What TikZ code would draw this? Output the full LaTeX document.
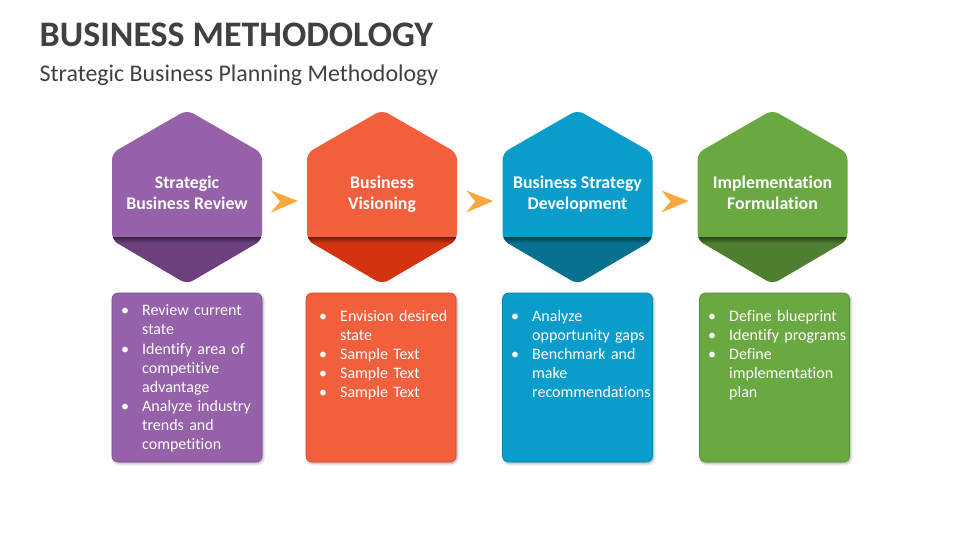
\documentclass[tikz,border=0pt]{standalone}
\usepackage{fontspec}
\setmainfont{Carlito}[Ligatures=NoCommon]
\usetikzlibrary{calc,shadows.blur}
\definecolor{txtgray}{HTML}{404040}
\definecolor{arrowc}{HTML}{F9A83E}
\definecolor{purM}{HTML}{9561A8}
\definecolor{purD}{HTML}{6D3F7E}
\definecolor{purB}{HTML}{7E4E91}
\definecolor{oraM}{HTML}{F15F3D}
\definecolor{oraD}{HTML}{D3340F}
\definecolor{oraB}{HTML}{DC4722}
\definecolor{bluM}{HTML}{0A9DCB}
\definecolor{bluD}{HTML}{07718F}
\definecolor{bluB}{HTML}{0784AC}
\definecolor{grnM}{HTML}{6AA841}
\definecolor{grnD}{HTML}{4E7E30}
\definecolor{grnB}{HTML}{568A3A}
\newcommand\bitem{\par\hangindent=21pt\hangafter=1\noindent\makebox[21pt][l]{\textbullet}\vrule height 12pt depth 0pt width 0pt\relax}
\newcommand\hexdraw[4]{%
  \begin{scope}[shift={(#1,0)}]
    \path[fill=#2, rounded corners=7pt] (0,110) -- (75,153) -- (75,240) -- (0,284) -- (-75,240) -- (-75,153) -- cycle;
    \begin{scope}
      \clip[rounded corners=7pt] (0,110) -- (75,153) -- (75,240) -- (0,284) -- (-75,240) -- (-75,153) -- cycle;
      \fill[#3] (-80,237) rectangle (80,290);
      \shade[top color=#3!55!black, bottom color=#3] (-80,237) rectangle (80,243);
    \end{scope}
    \coordinate (#4) at (0,175.3);
    \coordinate (#4-l) at (-75,201.5);
    \coordinate (#4-r) at (75,201.5);
  \end{scope}}
\newcommand\chevdraw[1]{%
  \fill[arrowc] ($(#1)+(-13.5,-11)$) -- ($(#1)+(13.5,-0.5)$) -- ($(#1)+(-13.5,11)$) -- ($(#1)+(-4.5,0)$) -- cycle;}
\tikzset{
  hexlabel/.style={align=center, text=white, inner sep=0pt, anchor=north, font=\fontsize{17.8}{21}\selectfont\bfseries},
  infobox/.style={rounded corners=6pt, minimum width=150pt, minimum height=169pt, line width=0.6pt, inner sep=0pt,
    blur shadow={shadow xshift=1.2pt, shadow yshift=-1.5pt, shadow blur radius=2.5pt, shadow opacity=35}},
  infotext/.style={anchor=north west, text width=150pt, inner sep=0pt, text=white, align=left, font=\fontsize{16}{19.1}\selectfont},
}
\begin{document}
\begin{tikzpicture}[x=1pt,y=-1pt]
\useasboundingbox (0,0) rectangle (960,540);
\node[anchor=base west, inner sep=0pt, text=txtgray, font=\fontsize{35.9}{40}\selectfont\bfseries] (title) at (39.5,46.7) {BUSINESS METHODOLOGY};
\node[anchor=base west, inner sep=0pt, text=txtgray, font=\fontsize{23.9}{28}\selectfont] (subtitle) at (39.5,81.7) {Strategic Business Planning Methodology};

\hexdraw{187}{purM}{purD}{h1}
\hexdraw{382}{oraM}{oraD}{h2}
\hexdraw{577.5}{bluM}{bluD}{h3}
\hexdraw{772.5}{grnM}{grnD}{h4}

\node[hexlabel] (l1) at (h1) {\vrule height 13pt depth 0pt width 0pt Strategic\\Business Review};
\node[hexlabel] (l2) at (h2) {\vrule height 13pt depth 0pt width 0pt Business\\Visioning};
\node[hexlabel] (l3) at (h3) {\vrule height 13pt depth 0pt width 0pt Business Strategy\\Development};
\node[hexlabel] (l4) at (h4) {\vrule height 13pt depth 0pt width 0pt Implementation\\Formulation};

\path (h1-r) -- (h2-l) coordinate[midway] (a1);
\path (h2-r) -- (h3-l) coordinate[midway] (a2);
\path (h3-r) -- (h4-l) coordinate[midway] (a3);
\chevdraw{a1}
\chevdraw{a2}
\chevdraw{a3}

\node[infobox, fill=purM, draw=purB] (b1) at (187,377.5) {};
\node[infobox, fill=oraM, draw=oraB] (b2) at (381,377.5) {};
\node[infobox, fill=bluM, draw=bluB] (b3) at (577.5,377.5) {};
\node[infobox, fill=grnM, draw=grnB] (b4) at (774.5,377.5) {};

\node[infotext] (t1) at (121,296.5) {\bitem Review current\newline state\bitem Identify area of\newline competitive\newline advantage\bitem Analyze industry\newline trends and\newline competition\par};
\node[infotext] (t2) at (319,302) {\bitem Envision desired\newline state\bitem Sample Text\bitem Sample Text\bitem Sample Text\par};
\node[infotext] (t3) at (511,302) {\bitem Analyze\newline opportunity gaps\bitem Benchmark and\newline make\newline recommendations\par};
\node[infotext] (t4) at (708,302) {\bitem Define blueprint\bitem Identify programs\bitem Define\newline implementation\newline plan\par};
\end{tikzpicture}
\end{document}
